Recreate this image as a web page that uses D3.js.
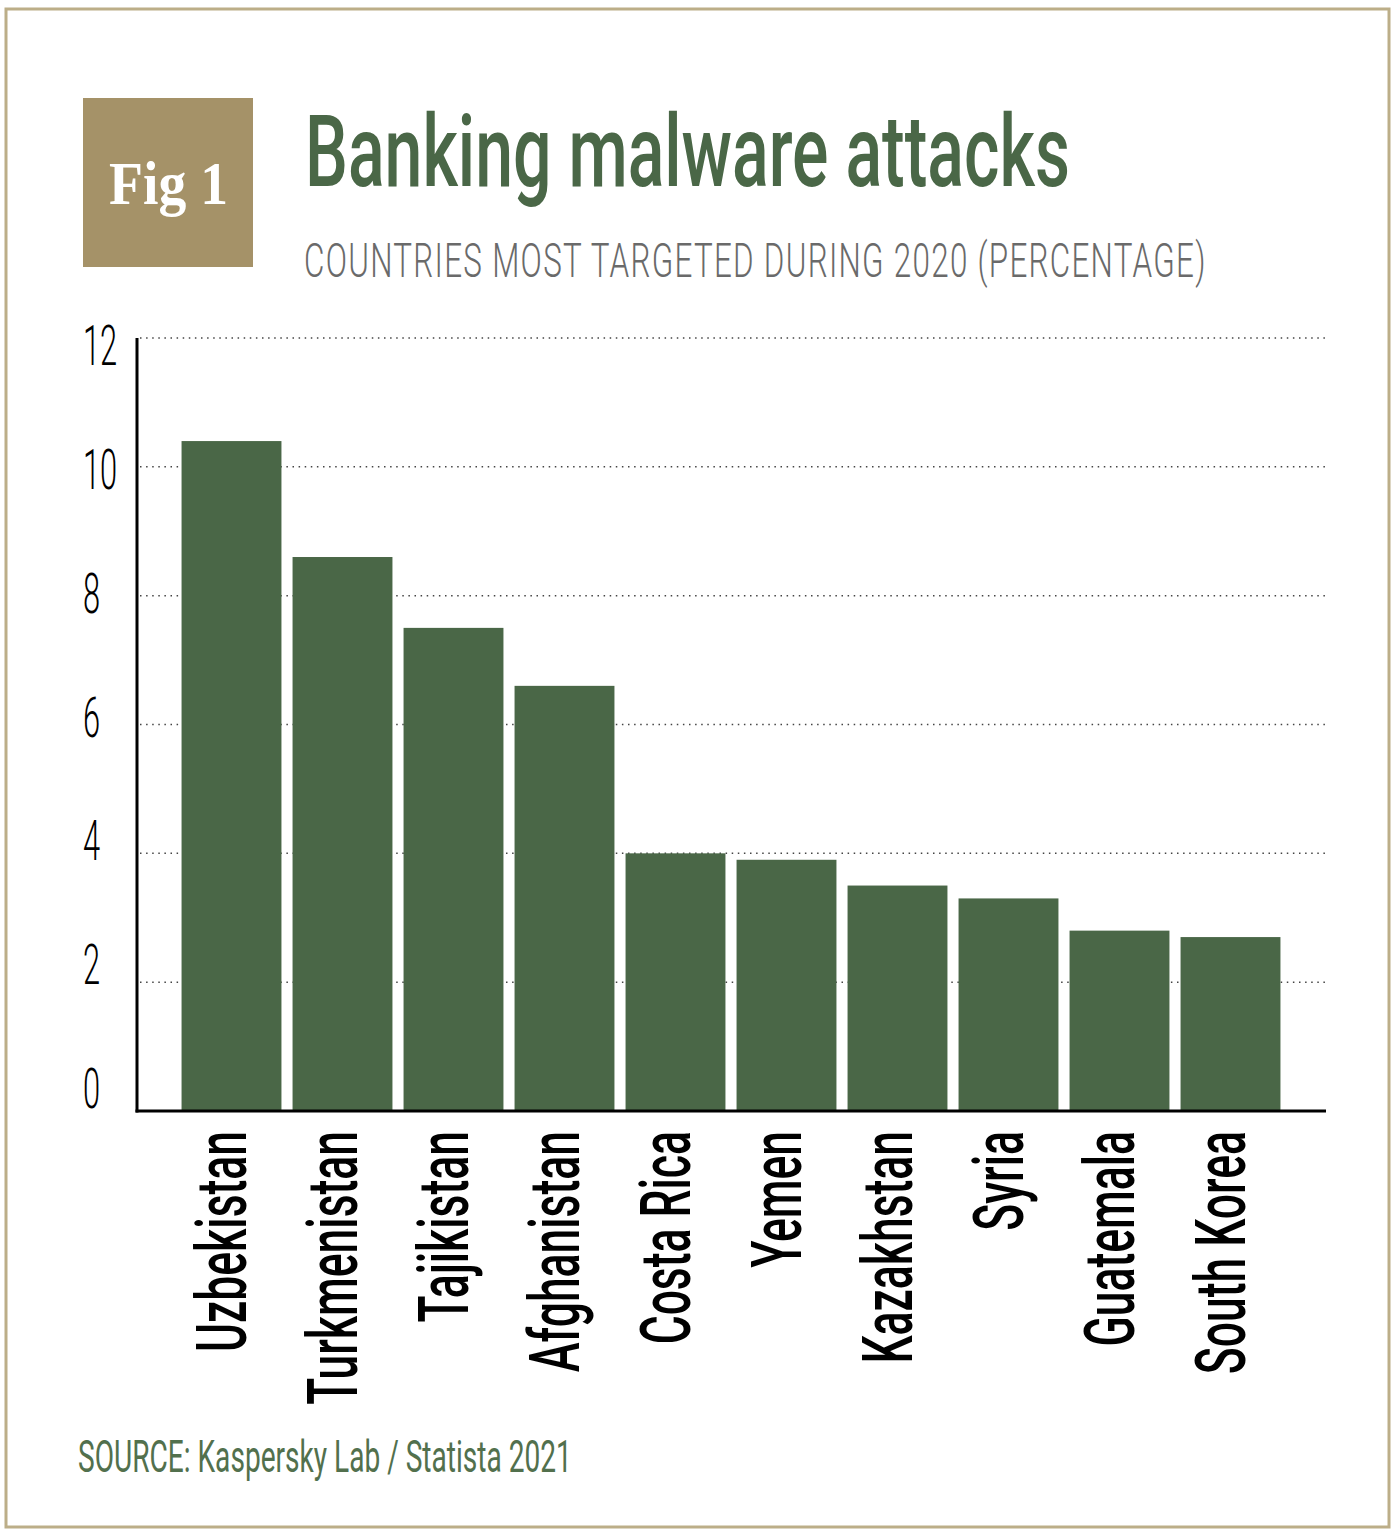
<!DOCTYPE html>
<html>
<head>
<meta charset="utf-8">
<script src="https://cdn.jsdelivr.net/npm/d3@7"></script>
<style>
  body { margin: 0; background: #fff; }
</style>
</head>
<body>
<div id="chart"></div>
<script>
// chart data
const countries = ["Uzbekistan", "Turkmenistan", "Tajikistan", "Afghanistan", "Costa Rica",
                   "Yemen", "Kazakhstan", "Syria", "Guatemala", "South Korea"];
const shares = [10.4, 8.6, 7.5, 6.6, 4.0, 3.9, 3.5, 3.3, 2.8, 2.7];
const yTicks = [0, 2, 4, 6, 8, 10, 12];

const titleText = "Banking malware attacks";
const subtitleText = "COUNTRIES MOST TARGETED DURING 2020 (PERCENTAGE)";
const sourceText = "SOURCE: Kaspersky Lab / Statista 2021";

const width = 1393, height = 1536;
const green = "#4a6747";
const gold = "#a59268";

let svg = d3.select("#chart").append("svg")
    .attr("width", width)
    .attr("height", height);

drawFrame(svg);
drawHeader(svg);
drawChart(svg);

// squeeze a text horizontally so it spans `w` pixels (fake condensed face)
function condense(text, x, y, w) {
    const natural = text.node().getComputedTextLength();
    text.attr("transform", `translate(${x}, ${y}) scale(${w / natural}, 1)`);
    return text;
}

function drawFrame(svg) {
    // thin gold border round the whole figure
    svg.append("rect")
        .attr("x", 6).attr("y", 9)
        .attr("width", 1383).attr("height", 1518)
        .attr("fill", "#fff")
        .attr("stroke", "#bcae88")
        .attr("stroke-width", 3);
}

function drawHeader(svg) {
    // "Fig 1" box
    svg.append("rect")
        .attr("x", 83).attr("y", 98)
        .attr("width", 170).attr("height", 169)
        .attr("fill", gold);

    let fig = svg.append("text")
        .attr("font-family", "'Liberation Serif', 'DejaVu Serif', serif")
        .attr("font-weight", "bold")
        .attr("font-size", 62)
        .attr("fill", "#fff")
        .text("Fig 1");
    condense(fig, 109, 204, 119);

    // title + subtitle
    let title = svg.append("text")
        .attr("font-family", "Roboto, sans-serif")
        .attr("font-weight", 500)
        .attr("font-size", 101)
        .attr("fill", green)
        .text(titleText);
    condense(title, 305, 186, 765);

    let sub = svg.append("text")
        .attr("font-family", "Roboto, sans-serif")
        .attr("font-weight", 300)
        .attr("font-size", 49)
        .attr("letter-spacing", 2)
        .attr("fill", "#6a6a6a")
        .text(subtitleText);
    condense(sub, 304, 277, 903);

    // source line at the bottom
    let src = svg.append("text")
        .attr("font-family", "Roboto, sans-serif")
        .attr("font-size", 45)
        .attr("fill", "#52704d")
        .text(sourceText);
    condense(src, 78, 1472, 494);
}

function drawChart(svg) {
    const left = 137, right = 1327, top = 338, bottom = 1111;

    const x = d3.scaleBand()
        .domain(countries)
        .range([176, 1286])
        .paddingInner(0.1)
        .paddingOuter(0.05);

    const y = d3.scaleLinear()
        .domain([0, 12])
        .range([bottom, top]);

    // the tick numbers sit on a slightly tighter scale than the gridlines
    const yLabel = d3.scaleLinear()
        .domain([0, 12])
        .range([1108, 365]);

    // dotted gridlines (not at zero)
    svg.append("g")
        .selectAll("line")
        .data(yTicks.filter(d => d > 0))
        .enter()
        .append("line")
        .attr("x1", left + 3).attr("x2", right)
        .attr("y1", d => y(d)).attr("y2", d => y(d))
        .attr("stroke", "#444")
        .attr("stroke-width", 1.5)
        .attr("stroke-dasharray", "1.5,4.6");

    // bars
    svg.append("g")
        .selectAll("rect")
        .data(shares)
        .enter()
        .append("rect")
        .attr("x", (d, i) => x(countries[i]))
        .attr("y", d => y(d))
        .attr("width", x.bandwidth())
        .attr("height", d => y(0) - y(d))
        .attr("fill", green);

    // y axis line + labels
    svg.append("line")
        .attr("x1", left).attr("x2", left)
        .attr("y1", top).attr("y2", bottom + 1.5)
        .attr("stroke", "#000")
        .attr("stroke-width", 3);

    svg.append("g")
        .selectAll("text")
        .data(yTicks)
        .enter()
        .append("text")
        .attr("transform", d => `translate(83, ${yLabel(d)}) scale(0.56, 1)`)
        .attr("font-family", "Roboto, sans-serif")
        .attr("font-weight", 300)
        .attr("font-size", 55)
        .attr("fill", "#000")
        .text(d => d);

    // x axis line
    svg.append("line")
        .attr("x1", left - 1.5).attr("x2", 1326)
        .attr("y1", bottom).attr("y2", bottom)
        .attr("stroke", "#000")
        .attr("stroke-width", 3);

    // rotated country labels
    svg.append("g")
        .selectAll("text")
        .data(countries)
        .enter()
        .append("text")
        .attr("transform", d => `translate(${x(d) + x.bandwidth() / 2 + 14}, 1131) rotate(-90) scale(0.635, 1)`)
        .attr("text-anchor", "end")
        .attr("font-family", "Roboto, sans-serif")
        .attr("font-weight", 500)
        .attr("font-size", 70)
        .attr("fill", "#000")
        .text(d => d);
}
</script>
</body>
</html>
